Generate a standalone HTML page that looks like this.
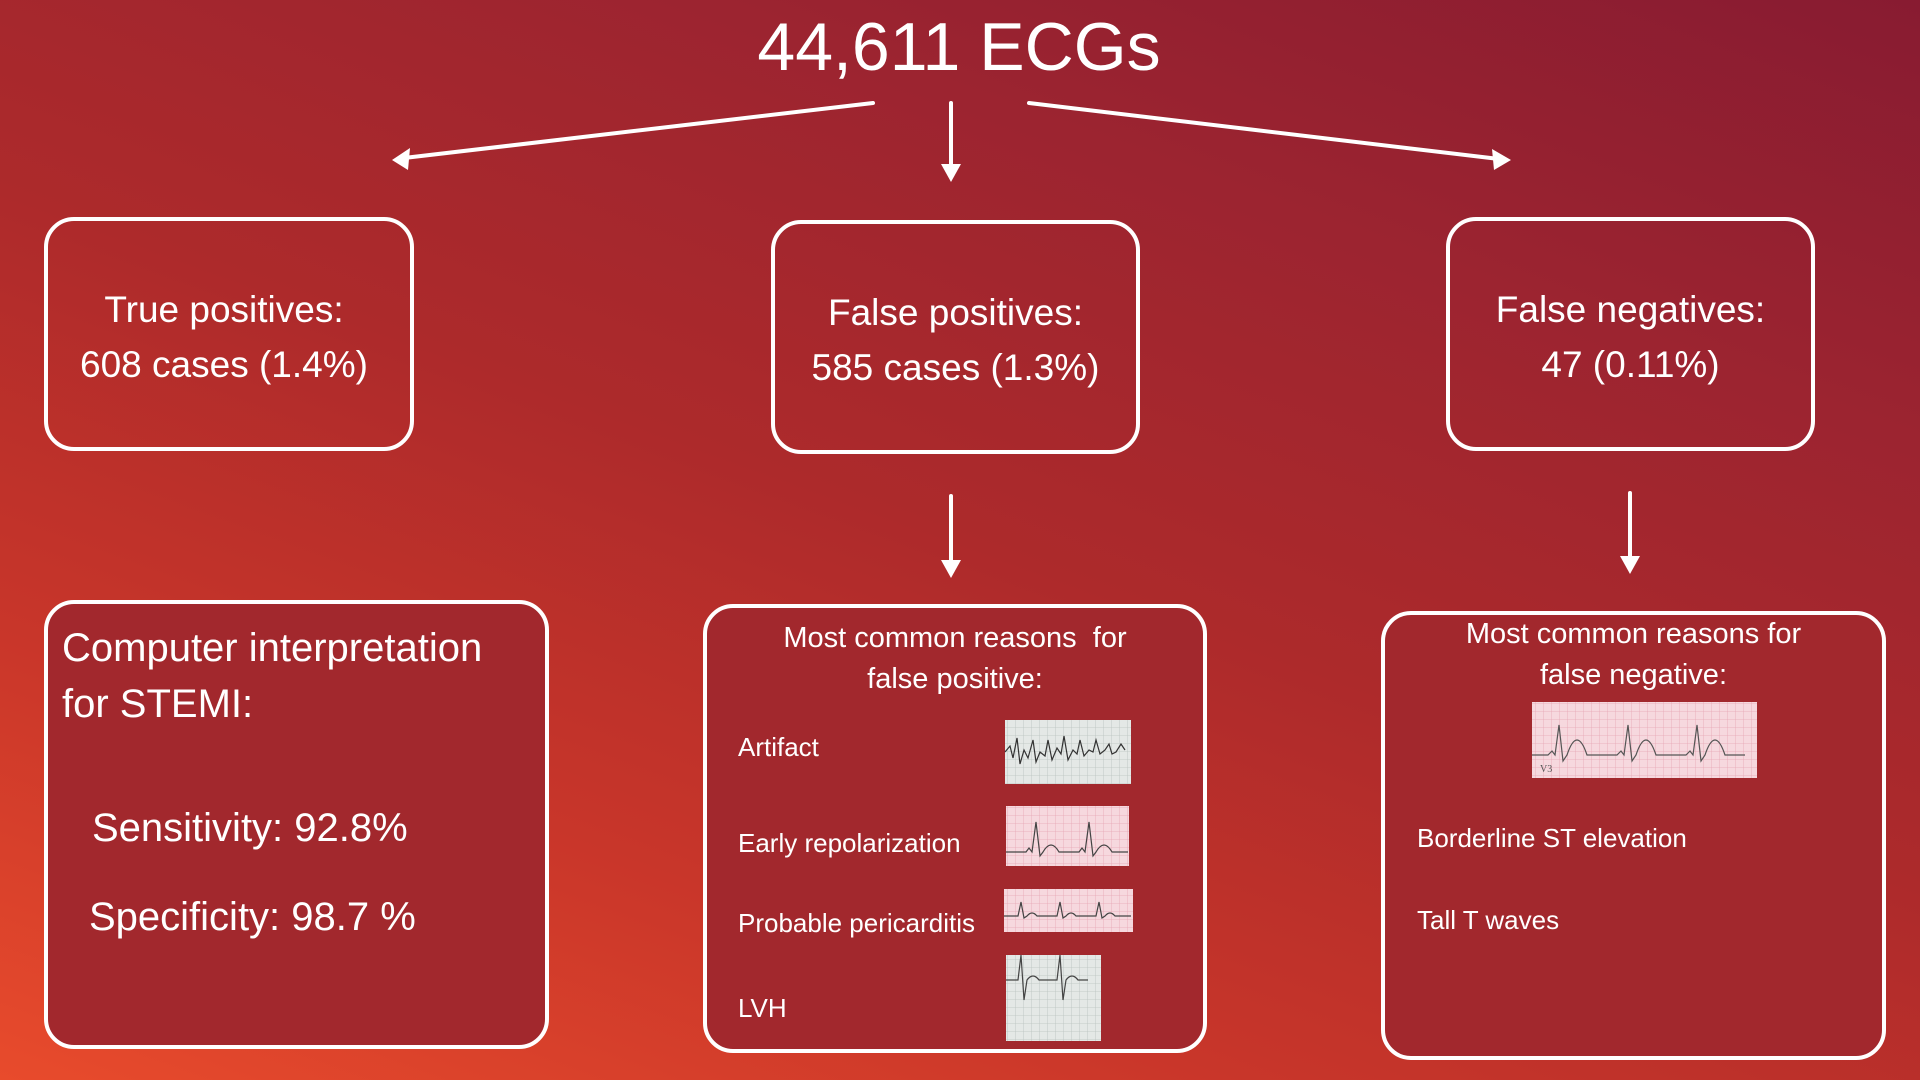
<!DOCTYPE html>
<html><head><meta charset="utf-8"><style>
html,body{margin:0;padding:0}
body{width:1920px;height:1080px;position:relative;overflow:hidden;font-family:"Liberation Sans",sans-serif;color:#fff;
background:linear-gradient(20deg,#e84b2c 0%,#c9362a 25%,#ad2a2b 50%,#9c2430 75%,#881b31 100%);}
.box{position:absolute;border:4px solid #fff;border-radius:30px;box-sizing:border-box;}
.t{position:absolute;white-space:nowrap;}
.c{text-align:center;}
.dark{background:#a2282d;}
svg{position:absolute;left:0;top:0}
</style></head><body>
<div class="t c" style="left:0;width:1918px;top:8px;font-size:68px;">44,611 ECGs</div>

<div class="box" style="left:44px;top:217px;width:370px;height:234px;"></div>
<div class="t c" style="left:44px;width:360px;top:282px;font-size:37px;line-height:55px;">True positives:<br>608 cases (1.4%)</div>
<div class="box" style="left:771px;top:220px;width:369px;height:234px;"></div>
<div class="t c" style="left:771px;width:369px;top:285px;font-size:37px;line-height:55px;">False positives:<br>585 cases (1.3%)</div>
<div class="box" style="left:1446px;top:217px;width:369px;height:234px;"></div>
<div class="t c" style="left:1446px;width:369px;top:282px;font-size:37px;line-height:55px;">False negatives:<br>47 (0.11%)</div>

<div class="box dark" style="left:44px;top:600px;width:505px;height:449px;"></div>
<div class="t" style="left:62px;top:620px;font-size:40px;line-height:56px;">Computer interpretation<br>for STEMI:</div>
<div class="t" style="left:92px;top:806px;font-size:40px;">Sensitivity: 92.8%</div>
<div class="t" style="left:89px;top:895px;font-size:40px;">Specificity: 98.7 %</div>

<div class="box dark" style="left:703px;top:604px;width:504px;height:449px;"></div>
<div class="t c" style="left:703px;width:504px;top:618px;font-size:29px;line-height:41px;">Most common reasons &nbsp;for<br>false positive:</div>
<div class="t" style="left:738px;top:732px;font-size:26px;">Artifact</div>
<div class="t" style="left:738px;top:828px;font-size:26px;">Early repolarization</div>
<div class="t" style="left:738px;top:908px;font-size:26px;">Probable pericarditis</div>
<div class="t" style="left:738px;top:993px;font-size:26px;">LVH</div>

<div class="box dark" style="left:1381px;top:611px;width:505px;height:449px;"></div>
<div class="t c" style="left:1381px;width:505px;top:614px;font-size:29px;line-height:41px;">Most common reasons for<br>false negative:</div>
<div class="t" style="left:1417px;top:823px;font-size:26px;">Borderline ST elevation</div>
<div class="t" style="left:1417px;top:905px;font-size:26px;">Tall T waves</div>

<svg width="1920" height="1080">
<defs>
<pattern id="g" width="8" height="8" patternUnits="userSpaceOnUse"><rect width="8" height="8" fill="#f6d8de"/><path d="M8 0V8M0 8H8" stroke="#e7a6b4" stroke-width="0.8"/></pattern>
<pattern id="gg" width="8" height="8" patternUnits="userSpaceOnUse"><rect width="8" height="8" fill="#e4e8e6"/><path d="M8 0V8M0 8H8" stroke="#b9c2bf" stroke-width="0.8"/></pattern>
<marker id="a" markerWidth="10" markerHeight="10" refX="6" refY="5" orient="auto" markerUnits="userSpaceOnUse" viewBox="0 0 10 10"><path d="M0 0L10 5L0 10Z" fill="#fff"/></marker>
</defs>
<g stroke="#fff" stroke-width="4" fill="none" stroke-linecap="round">
<path d="M873 103L404 158"/><path d="M951 103L951 170"/><path d="M1029 103L1499 159"/>
<path d="M951 496L951 566"/><path d="M1630 493L1630 562"/>
</g>
<g fill="#fff">
<path d="M392 160L410 148L408 170Z"/><path d="M941 164L961 164L951 182Z"/><path d="M1511 160L1492 149L1494 170Z"/>
<path d="M941 560L961 560L951 578Z"/><path d="M1620 556L1640 556L1630 574Z"/>
</g>
<rect x="1005" y="720" width="126" height="64" fill="url(#gg)"/>
<path d="M1005 752l5-6 3 12 4-20 3 26 4-14 4 8 5-18 3 22 4-10 5 4 3-16 4 20 5-12 4 6 3-18 4 24 5-10 4 4 3-14 4 16 5-6 4 2 3-12 4 14 5-4 4-6 3 10 4-2 5-8 4 6" stroke="#333" stroke-width="1.2" fill="none"/>
<rect x="1006" y="806" width="123" height="60" fill="url(#g)"/>
<path d="M1006 852h20l3-4 3 4 4-30 4 34 3-4q8-14 16 0h20l3-4 3 4 4-30 4 34 3-4q8-14 16 0h16" stroke="#444" stroke-width="1.2" fill="none"/>
<rect x="1004" y="889" width="129" height="43" fill="url(#g)"/>
<path d="M1004 916h14l3-14 3 16 3-2q5-6 10 0h20l3-14 3 16 3-2q5-6 10 0h20l3-14 3 16 3-2q5-6 10 0h16" stroke="#444" stroke-width="1.2" fill="none"/>
<rect x="1006" y="955" width="95" height="86" fill="url(#gg)"/>
<path d="M1006 980h12l3-25 3 45 3-20q6-8 12 0h18l3-25 3 45 3-20q6-8 12 0h10" stroke="#444" stroke-width="1.2" fill="none"/>
<rect x="1532" y="702" width="225" height="76" fill="url(#g)"/>
<path d="M1532 755h16l4-4 3 4 4-30 4 36 4-6q10-30 20 0h30l4-4 3 4 4-30 4 36 4-6q10-30 20 0h30l4-4 3 4 4-30 4 36 4-6q10-30 20 0h20" stroke="#555" stroke-width="1.2" fill="none"/>
<text x="1540" y="772" font-size="10" fill="#555" font-family="Liberation Serif">V3</text>
</svg>
</body></html>
